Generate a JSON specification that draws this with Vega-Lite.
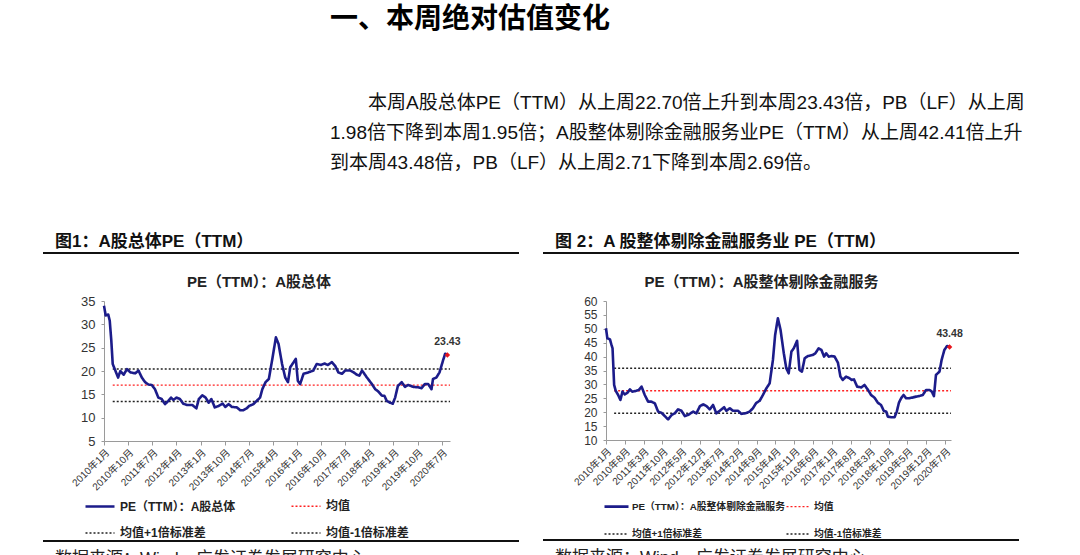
{
  "$schema": "https://vega.github.io/schema/vega-lite/v6.json",
  "background": "white",
  "padding": {"left": 43, "top": 6, "right": 0, "bottom": 0},
  "config": {
    "font": "Liberation Sans, Noto Sans CJK SC",
    "view": {"stroke": null},
    "axis": {"grid": false, "domainColor": "#9a9a9a", "tickColor": "#9a9a9a", "labelColor": "#333333", "labelFont": "Liberation Sans, Noto Sans CJK SC"},
    "axisX": {"labelAngle": -45, "labelFontSize": 10, "tickSize": 4, "labelPadding": 2, "labelOverlap": false},
    "axisY": {"labelFontSize": 13, "tickSize": 3, "labelPadding": 6}
  },
  "datasets": {
    "p1": [
      {"s":"M","d":"2010/04/10","v":16.97},{"s":"M","d":"2020/10/04","v":16.97},
      {"s":"U","d":"2010/04/10","v":20.43},{"s":"U","d":"2020/10/04","v":20.43},
      {"s":"L","d":"2010/04/10","v":13.47},{"s":"L","d":"2020/10/04","v":13.47},
      {"s":"PE","d":"2010/01/01","v":34.0},{"s":"PE","d":"2010/01/20","v":31.9},{"s":"PE","d":"2010/02/18","v":32.1},{"s":"PE","d":"2010/03/07","v":30.8},{"s":"PE","d":"2010/03/25","v":26.5},{"s":"PE","d":"2010/04/10","v":21.5},{"s":"PE","d":"2010/05/03","v":20.4},{"s":"PE","d":"2010/06/10","v":18.6},{"s":"PE","d":"2010/07/06","v":20.0},{"s":"PE","d":"2010/08/12","v":19.2},{"s":"PE","d":"2010/09/19","v":20.4},{"s":"PE","d":"2010/10/28","v":19.7},{"s":"PE","d":"2010/12/22","v":19.5},{"s":"PE","d":"2011/01/28","v":20.1},{"s":"PE","d":"2011/03/06","v":18.6},{"s":"PE","d":"2011/04/13","v":17.6},{"s":"PE","d":"2011/05/20","v":17.1},{"s":"PE","d":"2011/06/28","v":17.0},{"s":"PE","d":"2011/08/03","v":16.1},{"s":"PE","d":"2011/09/10","v":14.3},{"s":"PE","d":"2011/10/18","v":14.0},{"s":"PE","d":"2011/11/25","v":12.9},{"s":"PE","d":"2012/01/01","v":13.6},{"s":"PE","d":"2012/02/01","v":14.3},{"s":"PE","d":"2012/02/27","v":13.8},{"s":"PE","d":"2012/04/04","v":14.3},{"s":"PE","d":"2012/05/12","v":14.0},{"s":"PE","d":"2012/06/19","v":13.0},{"s":"PE","d":"2012/08/04","v":12.7},{"s":"PE","d":"2012/09/30","v":12.7},{"s":"PE","d":"2012/11/15","v":12.0},{"s":"PE","d":"2012/12/13","v":14.0},{"s":"PE","d":"2013/01/21","v":14.8},{"s":"PE","d":"2013/02/28","v":14.3},{"s":"PE","d":"2013/04/04","v":13.2},{"s":"PE","d":"2013/05/04","v":14.0},{"s":"PE","d":"2013/06/12","v":12.2},{"s":"PE","d":"2013/07/25","v":12.5},{"s":"PE","d":"2013/09/10","v":13.0},{"s":"PE","d":"2013/10/10","v":12.3},{"s":"PE","d":"2013/11/16","v":12.9},{"s":"PE","d":"2013/12/24","v":12.3},{"s":"PE","d":"2014/02/18","v":12.2},{"s":"PE","d":"2014/03/27","v":11.6},{"s":"PE","d":"2014/05/03","v":11.6},{"s":"PE","d":"2014/06/10","v":12.0},{"s":"PE","d":"2014/07/06","v":12.5},{"s":"PE","d":"2014/08/24","v":12.9},{"s":"PE","d":"2014/10/01","v":13.6},{"s":"PE","d":"2014/11/08","v":14.3},{"s":"PE","d":"2014/12/04","v":16.1},{"s":"PE","d":"2015/01/09","v":17.6},{"s":"PE","d":"2015/02/16","v":18.3},{"s":"PE","d":"2015/03/24","v":22.2},{"s":"PE","d":"2015/05/07","v":27.2},{"s":"PE","d":"2015/06/06","v":25.8},{"s":"PE","d":"2015/07/16","v":21.5},{"s":"PE","d":"2015/08/21","v":18.6},{"s":"PE","d":"2015/09/21","v":17.6},{"s":"PE","d":"2015/10/17","v":20.8},{"s":"PE","d":"2015/11/25","v":21.9},{"s":"PE","d":"2015/12/19","v":22.6},{"s":"PE","d":"2016/01/11","v":17.9},{"s":"PE","d":"2016/02/06","v":17.2},{"s":"PE","d":"2016/03/16","v":19.4},{"s":"PE","d":"2016/05/10","v":19.7},{"s":"PE","d":"2016/07/05","v":20.1},{"s":"PE","d":"2016/08/12","v":21.5},{"s":"PE","d":"2016/10/01","v":21.3},{"s":"PE","d":"2016/11/09","v":21.6},{"s":"PE","d":"2016/12/17","v":21.3},{"s":"PE","d":"2017/02/01","v":21.9},{"s":"PE","d":"2017/03/10","v":21.1},{"s":"PE","d":"2017/04/15","v":19.7},{"s":"PE","d":"2017/05/26","v":19.4},{"s":"PE","d":"2017/07/02","v":20.1},{"s":"PE","d":"2017/08/28","v":20.1},{"s":"PE","d":"2017/10/06","v":19.7},{"s":"PE","d":"2017/11/12","v":19.2},{"s":"PE","d":"2017/12/10","v":19.0},{"s":"PE","d":"2018/01/09","v":20.1},{"s":"PE","d":"2018/03/06","v":18.6},{"s":"PE","d":"2018/05/01","v":17.2},{"s":"PE","d":"2018/06/08","v":16.1},{"s":"PE","d":"2018/07/14","v":15.6},{"s":"PE","d":"2018/08/24","v":14.7},{"s":"PE","d":"2018/09/20","v":14.7},{"s":"PE","d":"2018/10/16","v":13.6},{"s":"PE","d":"2018/11/24","v":13.2},{"s":"PE","d":"2018/12/24","v":13.0},{"s":"PE","d":"2019/01/20","v":14.3},{"s":"PE","d":"2019/02/20","v":16.8},{"s":"PE","d":"2019/04/05","v":17.6},{"s":"PE","d":"2019/05/12","v":16.6},{"s":"PE","d":"2019/06/18","v":17.0},{"s":"PE","d":"2019/08/14","v":16.6},{"s":"PE","d":"2019/10/08","v":16.5},{"s":"PE","d":"2019/11/15","v":16.3},{"s":"PE","d":"2019/12/23","v":17.2},{"s":"PE","d":"2020/01/30","v":17.2},{"s":"PE","d":"2020/03/08","v":16.1},{"s":"PE","d":"2020/03/25","v":18.3},{"s":"PE","d":"2020/05/02","v":18.6},{"s":"PE","d":"2020/06/07","v":19.7},{"s":"PE","d":"2020/07/16","v":22.2},{"s":"PE","d":"2020/08/10","v":23.7},{"s":"PE","d":"2020/09/04","v":23.43}
    ],
    "p1last": [{"d":"2020/09/04","v":23.43}],
    "p2": [
      {"s":"M","d":"2010/04/03","v":27.72},{"s":"M","d":"2020/09/05","v":27.72},
      {"s":"U","d":"2010/04/03","v":35.8},{"s":"U","d":"2020/09/05","v":35.8},
      {"s":"L","d":"2010/04/03","v":19.6},{"s":"L","d":"2020/09/05","v":19.6},
      {"s":"PE","d":"2010/01/01","v":50.2},{"s":"PE","d":"2010/01/16","v":46.6},{"s":"PE","d":"2010/02/15","v":46.2},{"s":"PE","d":"2010/03/04","v":44.2},{"s":"PE","d":"2010/03/16","v":43.0},{"s":"PE","d":"2010/04/03","v":29.8},{"s":"PE","d":"2010/04/21","v":27.7},{"s":"PE","d":"2010/05/18","v":26.2},{"s":"PE","d":"2010/06/13","v":24.4},{"s":"PE","d":"2010/07/06","v":27.4},{"s":"PE","d":"2010/08/01","v":26.4},{"s":"PE","d":"2010/09/01","v":27.0},{"s":"PE","d":"2010/09/28","v":28.2},{"s":"PE","d":"2010/10/24","v":27.4},{"s":"PE","d":"2010/12/01","v":27.6},{"s":"PE","d":"2011/01/07","v":28.0},{"s":"PE","d":"2011/02/07","v":29.2},{"s":"PE","d":"2011/03/15","v":26.2},{"s":"PE","d":"2011/04/22","v":23.8},{"s":"PE","d":"2011/05/28","v":23.8},{"s":"PE","d":"2011/07/07","v":23.2},{"s":"PE","d":"2011/08/13","v":20.2},{"s":"PE","d":"2011/09/19","v":19.8},{"s":"PE","d":"2011/10/28","v":18.6},{"s":"PE","d":"2011/12/04","v":17.4},{"s":"PE","d":"2012/01/13","v":19.0},{"s":"PE","d":"2012/02/18","v":19.6},{"s":"PE","d":"2012/03/25","v":21.0},{"s":"PE","d":"2012/05/03","v":20.5},{"s":"PE","d":"2012/06/10","v":18.6},{"s":"PE","d":"2012/07/16","v":19.0},{"s":"PE","d":"2012/09/13","v":20.2},{"s":"PE","d":"2012/10/19","v":19.6},{"s":"PE","d":"2012/11/28","v":22.2},{"s":"PE","d":"2013/01/04","v":22.8},{"s":"PE","d":"2013/02/10","v":22.2},{"s":"PE","d":"2013/03/19","v":21.0},{"s":"PE","d":"2013/04/25","v":22.6},{"s":"PE","d":"2013/06/01","v":19.6},{"s":"PE","d":"2013/07/10","v":20.5},{"s":"PE","d":"2013/08/28","v":21.8},{"s":"PE","d":"2013/09/22","v":20.5},{"s":"PE","d":"2013/11/01","v":21.4},{"s":"PE","d":"2013/12/07","v":20.5},{"s":"PE","d":"2014/02/03","v":20.5},{"s":"PE","d":"2014/03/10","v":19.4},{"s":"PE","d":"2014/04/25","v":19.6},{"s":"PE","d":"2014/06/13","v":20.2},{"s":"PE","d":"2014/07/19","v":21.4},{"s":"PE","d":"2014/08/28","v":23.4},{"s":"PE","d":"2014/10/04","v":24.1},{"s":"PE","d":"2014/11/10","v":26.2},{"s":"PE","d":"2014/12/19","v":28.6},{"s":"PE","d":"2015/01/25","v":30.4},{"s":"PE","d":"2015/03/03","v":38.8},{"s":"PE","d":"2015/03/28","v":47.8},{"s":"PE","d":"2015/04/28","v":53.8},{"s":"PE","d":"2015/05/28","v":49.6},{"s":"PE","d":"2015/07/04","v":41.2},{"s":"PE","d":"2015/08/01","v":35.8},{"s":"PE","d":"2015/08/28","v":34.0},{"s":"PE","d":"2015/09/28","v":41.8},{"s":"PE","d":"2015/10/25","v":43.0},{"s":"PE","d":"2015/12/01","v":45.7},{"s":"PE","d":"2015/12/28","v":35.2},{"s":"PE","d":"2016/01/25","v":34.6},{"s":"PE","d":"2016/02/25","v":39.4},{"s":"PE","d":"2016/04/01","v":40.2},{"s":"PE","d":"2016/05/28","v":40.6},{"s":"PE","d":"2016/06/25","v":41.2},{"s":"PE","d":"2016/08/01","v":43.0},{"s":"PE","d":"2016/09/01","v":42.4},{"s":"PE","d":"2016/10/01","v":40.0},{"s":"PE","d":"2016/10/25","v":41.2},{"s":"PE","d":"2016/11/22","v":40.0},{"s":"PE","d":"2016/12/28","v":40.2},{"s":"PE","d":"2017/01/28","v":40.0},{"s":"PE","d":"2017/03/07","v":37.8},{"s":"PE","d":"2017/04/04","v":32.8},{"s":"PE","d":"2017/05/01","v":31.6},{"s":"PE","d":"2017/06/07","v":32.8},{"s":"PE","d":"2017/07/16","v":32.2},{"s":"PE","d":"2017/08/10","v":31.6},{"s":"PE","d":"2017/09/04","v":31.8},{"s":"PE","d":"2017/10/10","v":29.2},{"s":"PE","d":"2017/11/25","v":28.9},{"s":"PE","d":"2018/01/01","v":29.8},{"s":"PE","d":"2018/02/10","v":28.0},{"s":"PE","d":"2018/03/16","v":26.2},{"s":"PE","d":"2018/04/25","v":25.2},{"s":"PE","d":"2018/06/01","v":23.4},{"s":"PE","d":"2018/07/07","v":22.6},{"s":"PE","d":"2018/08/07","v":20.5},{"s":"PE","d":"2018/09/04","v":20.2},{"s":"PE","d":"2018/09/22","v":18.4},{"s":"PE","d":"2018/10/28","v":18.2},{"s":"PE","d":"2018/12/07","v":18.2},{"s":"PE","d":"2019/01/01","v":20.2},{"s":"PE","d":"2019/01/25","v":23.4},{"s":"PE","d":"2019/02/19","v":25.0},{"s":"PE","d":"2019/03/19","v":26.2},{"s":"PE","d":"2019/04/16","v":25.0},{"s":"PE","d":"2019/05/22","v":25.0},{"s":"PE","d":"2019/07/01","v":25.3},{"s":"PE","d":"2019/08/07","v":25.6},{"s":"PE","d":"2019/09/13","v":25.8},{"s":"PE","d":"2019/10/22","v":26.2},{"s":"PE","d":"2019/11/28","v":28.0},{"s":"PE","d":"2020/01/07","v":28.0},{"s":"PE","d":"2020/02/01","v":27.4},{"s":"PE","d":"2020/02/25","v":25.8},{"s":"PE","d":"2020/03/19","v":33.4},{"s":"PE","d":"2020/04/28","v":34.6},{"s":"PE","d":"2020/05/22","v":38.8},{"s":"PE","d":"2020/06/22","v":42.4},{"s":"PE","d":"2020/07/22","v":43.8},{"s":"PE","d":"2020/08/20","v":43.48}
    ],
    "p2last": [{"d":"2020/08/20","v":43.48}]
  },
  "title": {
    "text": "一、本周绝对估值变化",
    "subtitle": [
      "\u200b\u3000\u3000本周A股总体PE（TTM）从上周22.70倍上升到本周23.43倍，PB（LF）从上周",
      "1.98倍下降到本周1.95倍；A股整体剔除金融服务业PE（TTM）从上周42.41倍上升",
      "到本周43.48倍，PB（LF）从上周2.71下降到本周2.69倍。"
    ],
    "anchor": "start",
    "frame": "bounds",
    "dx": 287,
    "font": "Noto Sans CJK SC",
    "fontSize": 28,
    "fontWeight": "bold",
    "color": "#000000",
    "subtitleFont": "Liberation Sans, Noto Sans CJK SC",
    "subtitleFontSize": 19,
    "subtitleLineHeight": 30,
    "subtitleColor": "#111111",
    "subtitlePadding": 60,
    "offset": 60
  },
  "spacing": 24,
  "resolve": {"scale": {"color": "independent", "strokeDash": "independent", "strokeWidth": "independent"}},
  "hconcat": [
    {
      "spacing": 17,
      "resolve": {"scale": {"color": "independent", "strokeDash": "independent", "strokeWidth": "independent"}},
      "vconcat": [
        {
          "width": 476, "height": 2,
          "view": {"fill": "#111111", "stroke": null},
          "title": {"text": "图1：A股总体PE（TTM）", "anchor": "start", "dx": 12, "offset": -4, "fontSize": 17, "fontWeight": "bold", "color": "#111111"},
          "data": {"values": [{}]},
          "mark": {"type": "text", "text": ""},
          "encoding": {}
        },
        {
          "spacing": -9,
          "resolve": {"scale": {"color": "independent", "strokeDash": "independent", "strokeWidth": "independent"}},
          "vconcat": [
            {
              "spacing": 0,
              "resolve": {"scale": {"color": "independent", "strokeDash": "independent", "strokeWidth": "independent"}},
              "hconcat": [
                {"width": 27, "height": 1, "data": {"values": [{}]}, "mark": {"type": "text", "text": ""}, "encoding": {}},
                {
                  "width": 346, "height": 140,
                  "title": {"text": "PE（TTM）：A股总体", "fontSize": 15, "fontWeight": "bold", "offset": 5, "color": "#222222", "frame": "group", "dx": -18},
                  "encoding": {
                    "x": {"field": "d", "type": "temporal", "title": null,
                      "scale": {"domain": [{"year": 2010, "month": 1, "date": 1}, {"year": 2020, "month": 10, "date": 4}]},
                      "axis": {"format": "%Y年%-m月", "values": [
                        {"year": 2010, "month": 1, "date": 1}, {"year": 2010, "month": 10, "date": 1}, {"year": 2011, "month": 7, "date": 1}, {"year": 2012, "month": 4, "date": 1}, {"year": 2013, "month": 1, "date": 1}, {"year": 2013, "month": 10, "date": 1}, {"year": 2014, "month": 7, "date": 1}, {"year": 2015, "month": 4, "date": 1}, {"year": 2016, "month": 1, "date": 1}, {"year": 2016, "month": 10, "date": 1}, {"year": 2017, "month": 7, "date": 1}, {"year": 2018, "month": 4, "date": 1}, {"year": 2019, "month": 1, "date": 1}, {"year": 2019, "month": 10, "date": 1}, {"year": 2020, "month": 7, "date": 1}
                      ]}},
                    "y": {"field": "v", "type": "quantitative", "title": null,
                      "scale": {"domain": [5, 35], "nice": false, "zero": false},
                      "axis": {"values": [5, 10, 15, 20, 25, 30, 35]}}
                  },
                  "layer": [
                    {
                      "data": {"name": "p1"},
                      "mark": {"type": "line", "strokeJoin": "round"},
                      "encoding": {
                        "color": {"field": "s", "type": "nominal",
                          "scale": {"domain": ["PE", "M", "U", "L"], "range": ["#1c1c8a", "#ff2020", "#222222", "#222222"]},
                          "legend": {"title": null, "orient": "none", "legendX": -20, "legendY": 189.5, "direction": "horizontal", "columns": 2, "symbolType": "stroke", "symbolSize": 841, "labelFontSize": 12, "labelFontWeight": "bold", "labelColor": "#222222", "labelLimit": 300, "columnPadding": 52, "rowPadding": 5, "labelOffset": 4,
                            "labelExpr": "datum.value == 'PE' ? 'PE（TTM）：A股总体' : datum.value == 'M' ? '均值' : datum.value == 'U' ? '均值+1倍标准差' : '均值-1倍标准差'"}},
                        "strokeDash": {"field": "s", "type": "nominal",
                          "scale": {"domain": ["PE", "M", "U", "L"], "range": [[1, 0], [2, 2], [2, 2], [2, 2]]}},
                        "strokeWidth": {"field": "s", "type": "nominal",
                          "scale": {"type": "ordinal", "domain": ["PE", "M", "U", "L"], "range": [2.6, 1.4, 1.4, 1.4]}}
                      }
                    },
                    {
                      "data": {"name": "p1last"},
                      "mark": {"type": "point", "shape": "diamond", "filled": true, "color": "#e8141b", "size": 30, "opacity": 1}
                    },
                    {
                      "data": {"name": "p1last"},
                      "mark": {"type": "text", "dy": -13, "fontSize": 10.5, "fontWeight": "bold", "color": "#333333"},
                      "encoding": {"text": {"field": "v", "type": "quantitative", "format": ".2f"}}
                    }
                  ]
                }
              ]
            },
            {
              "width": 476, "height": 2,
              "view": {"fill": "#111111", "stroke": null},
              "title": {"text": "数据来源：Wind，广发证券发展研究中心", "orient": "bottom", "anchor": "start", "dx": 12, "offset": 5, "fontSize": 17, "fontWeight": "normal", "color": "#222222"},
              "data": {"values": [{}]},
              "mark": {"type": "text", "text": ""},
              "encoding": {}
            }
          ]
        }
      ]
    },
    {
      "spacing": 17,
      "resolve": {"scale": {"color": "independent", "strokeDash": "independent", "strokeWidth": "independent"}},
      "vconcat": [
        {
          "width": 476, "height": 2,
          "view": {"fill": "#111111", "stroke": null},
          "title": {"text": "图 2：A 股整体剔除金融服务业 PE（TTM）", "anchor": "start", "dx": 12, "offset": -4, "fontSize": 17, "fontWeight": "bold", "color": "#111111"},
          "data": {"values": [{}]},
          "mark": {"type": "text", "text": ""},
          "encoding": {}
        },
        {
          "spacing": -6,
          "resolve": {"scale": {"color": "independent", "strokeDash": "independent", "strokeWidth": "independent"}},
          "vconcat": [
            {
              "spacing": 0,
              "resolve": {"scale": {"color": "independent", "strokeDash": "independent", "strokeWidth": "independent"}},
              "hconcat": [
                {"width": 29, "height": 1, "data": {"values": [{}]}, "mark": {"type": "text", "text": ""}, "encoding": {}},
                {
                  "width": 345, "height": 139,
                  "title": {"text": "PE（TTM）：A股整体剔除金融服务", "fontSize": 15, "fontWeight": "bold", "offset": 5, "color": "#222222", "frame": "group", "dx": -17},
                  "encoding": {
                    "x": {"field": "d", "type": "temporal", "title": null,
                      "scale": {"domain": [{"year": 2010, "month": 1, "date": 1}, {"year": 2020, "month": 9, "date": 5}]},
                      "axis": {"format": "%Y年%-m月", "values": [
                        {"year": 2010, "month": 1, "date": 1}, {"year": 2010, "month": 8, "date": 1}, {"year": 2011, "month": 3, "date": 1}, {"year": 2011, "month": 10, "date": 1}, {"year": 2012, "month": 5, "date": 1}, {"year": 2012, "month": 12, "date": 1}, {"year": 2013, "month": 7, "date": 1}, {"year": 2014, "month": 2, "date": 1}, {"year": 2014, "month": 9, "date": 1}, {"year": 2015, "month": 4, "date": 1}, {"year": 2015, "month": 11, "date": 1}, {"year": 2016, "month": 6, "date": 1}, {"year": 2017, "month": 1, "date": 1}, {"year": 2017, "month": 8, "date": 1}, {"year": 2018, "month": 3, "date": 1}, {"year": 2018, "month": 10, "date": 1}, {"year": 2019, "month": 5, "date": 1}, {"year": 2019, "month": 12, "date": 1}, {"year": 2020, "month": 7, "date": 1}
                      ]}},
                    "y": {"field": "v", "type": "quantitative", "title": null,
                      "scale": {"domain": [10, 60], "nice": false, "zero": false},
                      "axis": {"values": [10, 15, 20, 25, 30, 35, 40, 45, 50, 55, 60], "labelFontSize": 12}}
                  },
                  "layer": [
                    {
                      "data": {"name": "p2"},
                      "mark": {"type": "line", "strokeJoin": "round"},
                      "encoding": {
                        "color": {"field": "s", "type": "nominal",
                          "scale": {"domain": ["PE", "M", "U", "L"], "range": ["#1c1c8a", "#ff2020", "#222222", "#222222"]},
                          "legend": {"title": null, "orient": "none", "legendX": -3, "legendY": 192, "direction": "horizontal", "columns": 2, "symbolType": "stroke", "symbolSize": 576, "labelFontSize": 9.8, "labelFontWeight": "bold", "labelColor": "#222222", "labelLimit": 300, "columnPadding": -3, "rowPadding": 9, "labelOffset": 2,
                            "labelExpr": "datum.value == 'PE' ? 'PE（TTM）：A股整体剔除金融服务' : datum.value == 'M' ? '均值' : datum.value == 'U' ? '均值+1倍标准差' : '均值-1倍标准差'"}},
                        "strokeDash": {"field": "s", "type": "nominal",
                          "scale": {"domain": ["PE", "M", "U", "L"], "range": [[1, 0], [2, 2], [2, 2], [2, 2]]}},
                        "strokeWidth": {"field": "s", "type": "nominal",
                          "scale": {"type": "ordinal", "domain": ["PE", "M", "U", "L"], "range": [2.6, 1.4, 1.4, 1.4]}}
                      }
                    },
                    {
                      "data": {"name": "p2last"},
                      "mark": {"type": "point", "shape": "diamond", "filled": true, "color": "#e8141b", "size": 30, "opacity": 1}
                    },
                    {
                      "data": {"name": "p2last"},
                      "mark": {"type": "text", "dy": -13, "fontSize": 10.5, "fontWeight": "bold", "color": "#333333"},
                      "encoding": {"text": {"field": "v", "type": "quantitative", "format": ".2f"}}
                    }
                  ]
                }
              ]
            },
            {
              "width": 476, "height": 2,
              "view": {"fill": "#111111", "stroke": null},
              "title": {"text": "数据来源：Wind，广发证券发展研究中心", "orient": "bottom", "anchor": "start", "dx": 12, "offset": 5, "fontSize": 17, "fontWeight": "normal", "color": "#222222"},
              "data": {"values": [{}]},
              "mark": {"type": "text", "text": ""},
              "encoding": {}
            }
          ]
        }
      ]
    }
  ]
}
